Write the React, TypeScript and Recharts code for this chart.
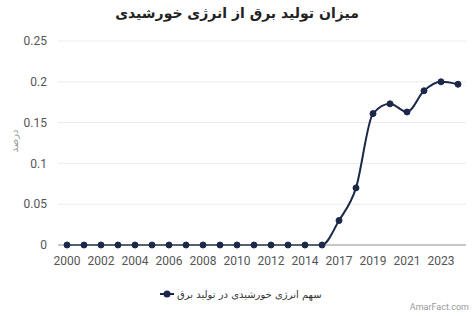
import React from 'react';
import { LineChart, Line, XAxis, YAxis, CartesianGrid } from 'recharts';

const years = ['2000','2001','2002','2003','2004','2005','2006','2007','2008','2009','2010','2011','2012','2013','2014','2016','2017','2018','2019','2020','2021','2022','2023','2024'];
const solarShare = [0,0,0,0,0,0,0,0,0,0,0,0,0,0,0,0,0.03,0.07,0.161,0.173,0.163,0.189,0.2,0.197];
const yTicks = [0, 0.05, 0.1, 0.15, 0.2, 0.25];

const title = 'میزان تولید برق از انرژی خورشیدی';
const seriesName = 'سهم انرژی خورشیدی در تولید برق';
const yLabel = 'درصد';
const watermark = 'AmarFact.com';

const data = years.map((y, i) => ({ year: y, value: solarShare[i] }));

const COLOR = '#1b2849';
const FONT = "Roboto, 'DejaVu Sans', sans-serif";

export default function App() {
  return (
    <div style={{ position: 'absolute', left: 0, top: 0, width: 474, height: 316, background: '#fff', fontFamily: FONT }}>
      <div style={{ position: 'absolute', top: 5, left: 0, width: 474, textAlign: 'center', fontSize: 14, fontWeight: 'bold', color: '#222', fontFamily: "'DejaVu Sans', sans-serif", direction: 'rtl' }}>
        {title}
      </div>
      <LineChart width={474} height={316} data={data} margin={{ top: 41, right: 8, bottom: 41, left: 0 }}>
        <CartesianGrid vertical={false} stroke="#ebebeb" />
        <XAxis
          dataKey="year"
          interval={1}
          tickLine={false}
          axisLine={{ stroke: '#999' }}
          tick={{ fill: '#555', fontSize: 12, fontFamily: FONT }}
          tickMargin={5}
          padding={{ left: 9, right: 8 }}
          height={30}
        />
        <YAxis
          width={58}
          domain={[0, 0.25]}
          ticks={yTicks}
          axisLine={false}
          tickLine={false}
          tick={{ fill: '#555', fontSize: 12, fontFamily: FONT }}
          tickMargin={5}
        />
        <Line
          type="monotone"
          dataKey="value"
          stroke={COLOR}
          strokeWidth={2}
          dot={{ r: 3, fill: COLOR, stroke: COLOR, strokeWidth: 1 }}
          isAnimationActive={false}
        />
      </LineChart>
      <div style={{ position: 'absolute', left: 8, top: 141, width: 14, height: 0 }}>
        <div style={{ position: 'absolute', left: -10, top: -7, width: 34, textAlign: 'center', transform: 'rotate(-90deg)', fontSize: 10, color: '#999', fontFamily: "'DejaVu Sans', sans-serif", direction: 'rtl', lineHeight: '14px' }}>
          {yLabel}
        </div>
      </div>
      <div style={{ position: 'absolute', left: 160, top: 287, height: 14, display: 'flex', alignItems: 'center' }}>
        <svg width={14} height={10} style={{ marginRight: 3 }}>
          <line x1={0} y1={5} x2={14} y2={5} stroke={COLOR} strokeWidth={2} />
          <circle cx={7} cy={5} r={3.5} fill={COLOR} />
        </svg>
        <span style={{ fontSize: 10, color: '#333', fontFamily: "'DejaVu Sans', sans-serif", direction: 'rtl', whiteSpace: 'nowrap' }}>{seriesName}</span>
      </div>
      <div style={{ position: 'absolute', right: 5, top: 302, fontSize: 9, color: '#999', fontFamily: FONT }}>
        {watermark}
      </div>
    </div>
  );
}
